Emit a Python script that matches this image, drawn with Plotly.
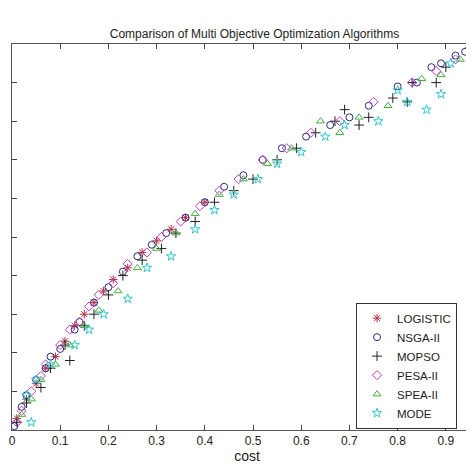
import plotly.graph_objects as go

log_x = [0.01,0.03,0.05,0.07,0.09,0.11,0.13,0.15,0.17,0.19,0.21,0.24,0.27,0.30,0.33,0.36,0.40]
log_y = [0.03,0.08,0.12,0.16,0.19,0.23,0.27,0.30,0.33,0.36,0.39,0.42,0.46,0.49,0.52,0.55,0.59]
nsga_x = [0.005,0.02,0.03,0.05,0.07,0.08,0.10,0.13,0.14,0.17,0.20,0.23,0.26,0.29,0.32,0.36,0.40,0.44,0.48,0.52,0.56,0.61,0.66,0.70,0.74,0.80,0.84,0.87,0.89,0.92,0.94,0.96]
nsga_y = [0.01,0.06,0.09,0.13,0.16,0.19,0.21,0.26,0.28,0.33,0.37,0.41,0.45,0.48,0.51,0.55,0.59,0.63,0.66,0.70,0.73,0.76,0.79,0.81,0.84,0.89,0.90,0.94,0.95,0.97,0.98,1.00]
mopso_x = [0.01,0.03,0.06,0.08,0.11,0.12,0.15,0.17,0.20,0.23,0.27,0.31,0.34,0.38,0.42,0.46,0.50,0.55,0.59,0.63,0.67,0.69,0.72,0.74,0.79,0.82,0.83,0.88,0.90,0.95]
mopso_y = [0.02,0.07,0.11,0.16,0.22,0.18,0.27,0.30,0.35,0.40,0.44,0.47,0.51,0.54,0.59,0.62,0.65,0.70,0.73,0.77,0.80,0.83,0.79,0.81,0.86,0.85,0.90,0.90,0.94,0.99]
pesa_x = [0.01,0.02,0.04,0.06,0.07,0.10,0.12,0.14,0.16,0.18,0.21,0.24,0.28,0.31,0.35,0.39,0.43,0.47,0.52,0.57,0.62,0.68,0.75,0.83,0.88,0.92]
pesa_y = [0.02,0.05,0.10,0.14,0.17,0.22,0.26,0.28,0.32,0.35,0.38,0.43,0.46,0.50,0.54,0.58,0.62,0.65,0.70,0.73,0.77,0.80,0.85,0.90,0.93,0.96]
spea_x = [0.02,0.04,0.06,0.09,0.12,0.15,0.18,0.22,0.26,0.30,0.34,0.38,0.43,0.48,0.53,0.58,0.64,0.68,0.72,0.78,0.85,0.89,0.93]
spea_y = [0.04,0.08,0.13,0.17,0.22,0.27,0.31,0.36,0.42,0.47,0.51,0.56,0.61,0.65,0.69,0.73,0.80,0.77,0.81,0.84,0.91,0.92,0.96]
mode_x = [0.04,0.05,0.03,0.08,0.13,0.16,0.19,0.24,0.28,0.33,0.38,0.42,0.46,0.51,0.55,0.60,0.65,0.69,0.76,0.80,0.82,0.86,0.89,0.91]
mode_y = [0.02,0.13,0.09,0.17,0.22,0.26,0.30,0.34,0.42,0.45,0.52,0.57,0.61,0.65,0.69,0.72,0.76,0.79,0.80,0.88,0.85,0.83,0.87,0.95]

series = [
    ("LOGISTIC", log_x, log_y, "asterisk-open", "#b03040"),
    ("NSGA-II", nsga_x, nsga_y, "circle-open", "#2a2a80"),
    ("MOPSO", mopso_x, mopso_y, "cross-thin-open", "#202020"),
    ("PESA-II", pesa_x, pesa_y, "diamond-open", "#c040c0"),
    ("SPEA-II", spea_x, spea_y, "triangle-up-open", "#40b040"),
    ("MODE", mode_x, mode_y, "star-open", "#30c8c8"),
]

fig = go.Figure()
for name, x, y, sym, col in series:
    fig.add_trace(go.Scatter(x=x, y=y, mode="markers", name=name,
                             marker=dict(symbol=sym, size=7, color=col, line=dict(width=1, color=col))))

fig.update_layout(
    width=474, height=474, template="simple_white",
    margin=dict(l=4, r=0, t=36, b=52),
    font=dict(family="Liberation Sans, Arial", size=12, color="#222"),
    title=dict(text="Comparison of Multi Objective Optimization Algorithms", x=0.52, y=0.955,
               xanchor="center", font=dict(size=12)),
    legend=dict(x=0.732, y=0.33, xanchor="left", yanchor="top", bordercolor="#333", borderwidth=1,
                font=dict(size=11.5), bgcolor="white", itemwidth=30, tracegroupgap=0),
    xaxis=dict(title=dict(text="cost", standoff=0), range=[0, 0.975], tickvals=[0,0.1,0.2,0.3,0.4,0.5,0.6,0.7,0.8,0.9],
               ticktext=["0","0.1","0.2","0.3","0.4","0.5","0.6","0.7","0.8","0.9"], automargin=False,
               ticks="inside", ticklen=5, mirror="ticks", showline=True, linecolor="#555"),
    yaxis=dict(range=[0, 1], dtick=0.1, ticks="inside", ticklen=5, showticklabels=False, automargin=False,
               mirror=True, showline=True, linecolor="#555"),
)
fig.write_html("out.html")
